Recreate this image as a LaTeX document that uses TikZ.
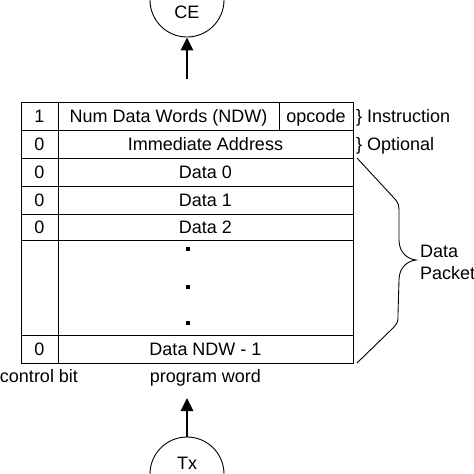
\documentclass[tikz,border=0pt]{standalone}
\usepackage{fontspec}
\setmainfont{Liberation Sans}
\usetikzlibrary{arrows.meta}
\begin{document}
\begin{tikzpicture}[x=1pt,y=-1pt,
  lbl/.style={font=\fontsize{18}{21}\selectfont, inner sep=0pt, anchor=base},
  grid/.style={line width=0.9pt},
  circ/.style={circle, draw, line width=0.9pt, minimum size=74pt, inner sep=0pt},
  arr/.style={line width=2.8pt, -{Triangle[length=13pt,width=12pt]}},
  dotsq/.style={fill=black, minimum size=3.5pt, inner sep=0pt}]
\useasboundingbox (0,0) rectangle (474,474);
% circles
\node[circ] (ce) at (187,0) {};
\node[lbl] (cet) at (187,18) {CE};
\node[circ] (tx) at (187,474) {};
\node[lbl] (txt) at (187,469) {Tx};
% arrows
\coordinate (cestart) at (187,79);
\coordinate (txend) at (187,398);
\draw[arr] (cestart) -- (ce.south);
\draw[arr] (tx.north) -- (txend);
% table
\draw[grid] (21,102) rectangle (353,363);
\foreach \yy in {130,158,186,214,240,335}
  \draw[grid] (21,\yy) -- (353,\yy);
\draw[grid] (58,102) -- (58,363);
\draw[grid] (279,102) -- (279,130);
% cell texts
\node[lbl] (c1) at (39.5,122.5) {1};
\node[lbl] (ndw) at (168.5,122.5) {Num Data Words (NDW)};
\node[lbl] (op) at (316,122.5) {opcode};
\node[lbl] (c2) at (39.5,150.5) {0};
\node[lbl] (ia) at (205.5,150.5) {Immediate Address};
\node[lbl] (c3) at (39.5,178.5) {0};
\node[lbl] (d0) at (205.5,178.5) {Data 0};
\node[lbl] (c4) at (39.5,206.5) {0};
\node[lbl] (d1) at (205.5,206.5) {Data 1};
\node[lbl] (c5) at (39.5,233.5) {0};
\node[lbl] (d2) at (205.5,233.5) {Data 2};
\node[dotsq] (p1) at (188,249) {};
\node[dotsq] (p2) at (188,287) {};
\node[dotsq] (p3) at (188,323) {};
\node[lbl] (c6) at (39.5,355.5) {0};
\node[lbl] (dn) at (205.5,355.5) {Data NDW - 1};
% bottom labels
\node[lbl] (cb) at (39,382) {control bit};
\node[lbl] (pw) at (205.5,382) {program word};
% right labels
\node[lbl, anchor=base west] (ins) at (356,122) {\} Instruction};
\node[lbl, anchor=base west] (opt) at (356,150) {\} Optional};
\draw[line width=0.9pt] (357,158) -- (394,198) .. controls (399,204) .. (399,214) -- (399,240)
  .. controls (399,252) and (407,259) .. (416,260)
  .. controls (407,261) and (399,268) .. (399,280) -- (398,314)
  .. controls (398,322) .. (394,327) -- (357,363);
\node[lbl, anchor=base west] (dp1) at (420,257) {Data};
\node[lbl, anchor=base west] (dp2) at (420,279) {Packet};
\end{tikzpicture}
\end{document}
